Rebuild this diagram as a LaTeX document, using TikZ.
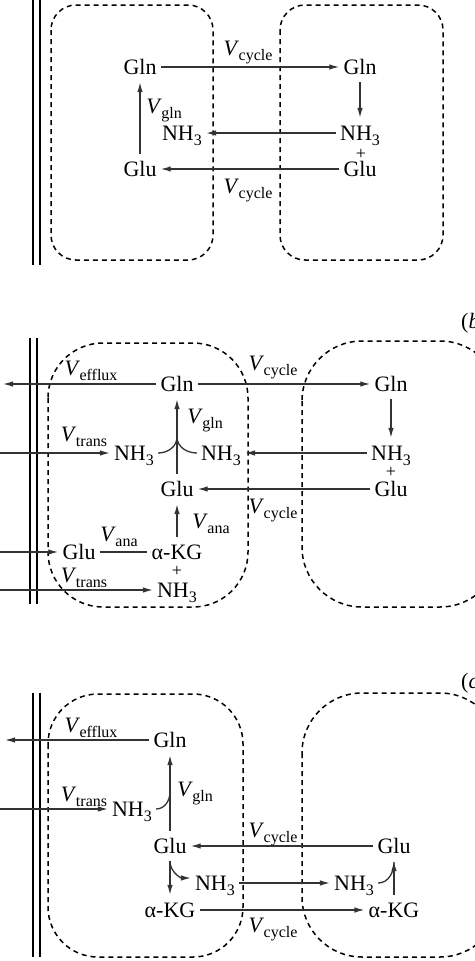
\documentclass[tikz,border=0pt]{standalone}
\usepackage{fontspec}
\setmainfont{Liberation Serif}
\usepackage{tikz}
\usetikzlibrary{arrows.meta}
\tikzset{>={Latex[length=10pt,width=5.5pt]}}
\tikzstyle{flow} = [->, black!80, line width=1.3]
\tikzstyle{link} = [black!80, line width=1.3]
\tikzstyle{cell} = [dash pattern=on 5pt off 4pt, line width=1.5]
\tikzstyle{wall} = [line width=1.8]
\tikzstyle{met} = [inner sep=4pt, text height=18pt, text depth=4pt, font=\fontsize{22}{26}\selectfont]
\tikzstyle{rate} = [inner sep=0pt, anchor=base, font=\fontsize{22}{26}\selectfont]
\tikzstyle{plus} = [inner sep=0pt, font=\fontsize{18}{20}\selectfont]
\newcommand{\vrate}[1]{\textit{V}\kern-0.5pt\raisebox{-5pt}{\fontsize{16}{16}\selectfont #1}}
\newcommand{\nhthree}{NH\raisebox{-5pt}{\fontsize{16}{16}\selectfont 3}}

\begin{document}
\begin{tikzpicture}[x=1pt, y=-1pt]
		\useasboundingbox (0,0) rectangle (474,961);
		
		% Coordinates
		\coordinate (bOut) at (3,384);
		\coordinate (bIn1) at (0,453);
		\coordinate (bIn2) at (0,552);
		\coordinate (bIn3) at (0,590);
		\coordinate (bJoin) at (177,437);
		\coordinate (cOut) at (5,740);
		\coordinate (cIn) at (0,809);
		\coordinate (cJoin) at (170,792);
		\coordinate (cMerge) at (394,862);
		
		% Walls
		\foreach \x/\ya/\yb in {33/0/265, 40/0/265, 30/338/604, 37/338/604, 33/693/957, 40/693/957}
		{
			\draw[wall] (\x,\ya) -- (\x,\yb);
		}
		
		% Cells
		\draw[cell, rounded corners=25pt] (51,5) rectangle (213,260);
		\draw[cell, rounded corners=25pt] (280,5) rectangle (443,260);
		\draw[cell, rounded corners=55pt] (48,343) rectangle (248,607);
		\draw[cell, rounded corners=60pt] (302,341) rectangle (500,607);
		\draw[cell, rounded corners=50pt] (48,694) rectangle (243,957);
		\draw[cell, rounded corners=60pt] (302,693) rectangle (500,957);
		
		% Panel labels
		\node[rate, anchor=base west] (labB) at (461,328) {(\textit{b})};
		\node[rate, anchor=base west] (labC) at (461,688) {(\textit{c})};
		
		% (a) Metabolites
		\node[met] (aGlnL) at (140,67) {Gln};
		\node[met] (aGlnR) at (360,67) {Gln};
		\node[met] (aNHL) at (182,133) {\nhthree};
		\node[met] (aNHR) at (360,133) {\nhthree};
		\node[plus] (aPlus) at (361,154) {+};
		\node[met] (aGluL) at (140,169) {Glu};
		\node[met] (aGluR) at (360,169) {Glu};
		
		% (a) Fluxes
		\draw[flow] (aGlnL) -- (aGlnR);
		\draw[flow] (aGlnR) -- (aNHR);
		\draw[flow] (aNHR) -- (aNHL);
		\draw[flow] (aGluR) -- (aGluL);
		\draw[flow] (aGluL) -- (aGlnL);
		\node[rate] (aVc1) at (248,55) {\vrate{cycle}};
		\node[rate] (aVc2) at (248,193) {\vrate{cycle}};
		\node[rate] (aVg) at (164,113) {\vrate{gln}};
		
		% (b) Metabolites
		\node[met] (bGln) at (177,384) {Gln};
		\node[met] (bGlnR) at (391,384) {Gln};
		\node[met] (bNHL) at (134,453) {\nhthree};
		\node[met] (bNHM) at (221,453) {\nhthree};
		\node[met] (bNHR) at (391,453) {\nhthree};
		\node[plus] (bPlus) at (391,472) {+};
		\node[met] (bGlu) at (177,489) {Glu};
		\node[met] (bGluR) at (391,489) {Glu};
		\node[met] (bGluL) at (79,552) {Glu};
		\node[met] (bKG) at (177,552) {α-KG};
		\node[plus] (bPlus2) at (177,571) {+};
		\node[met] (bNH) at (177,590) {\nhthree};
		
		% (b) Fluxes
		\draw[flow] (bGln) -- (bOut);
		\draw[flow] (bGln) -- (bGlnR);
		\draw[flow] (bGlnR) -- (bNHR);
		\draw[flow] (bNHR) -- (bNHM);
		\draw[flow] (bGluR) -- (bGlu);
		\draw[flow] (bGlu) -- (bGln);
		\draw[link] (bNHL.east) to[out=0, in=-90] (bJoin);
		\draw[link] (bNHM.west) to[out=180, in=-90] (bJoin);
		\draw[flow] (bIn1) -- (bNHL);
		\draw[flow] (bKG) -- (bGlu);
		\draw[flow] (bIn2) -- (bGluL);
		\draw[link] (bGluL) -- (bKG);
		\draw[flow] (bIn3) -- (bNH);
		\node[rate] (bVe) at (91,375) {\vrate{efflux}};
		\node[rate] (bVc1) at (273,370) {\vrate{cycle}};
		\node[rate] (bVg) at (205,423) {\vrate{gln}};
		\node[rate] (bVt1) at (84,441) {\vrate{trans}};
		\node[rate] (bVc2) at (273,513) {\vrate{cycle}};
		\node[rate] (bVa1) at (211,528) {\vrate{ana}};
		\node[rate] (bVa2) at (119,541) {\vrate{ana}};
		\node[rate] (bVt2) at (84,582) {\vrate{trans}};
		
		% (c) Metabolites
		\node[met] (cGln) at (170,740) {Gln};
		\node[met] (cNHL) at (132,809) {\nhthree};
		\node[met] (cGlu) at (170,846) {Glu};
		\node[met] (cGluR) at (394,846) {Glu};
		\node[met] (cNHM) at (215,883) {\nhthree};
		\node[met] (cNHR) at (354,883) {\nhthree};
		\node[met] (cKGL) at (170,910) {α-KG};
		\node[met] (cKGR) at (394,910) {α-KG};
		
		% (c) Fluxes
		\draw[flow] (cGln) -- (cOut);
		\draw[flow] (cIn) -- (cNHL);
		\draw[flow] (cGlu) -- (cGln);
		\draw[link] (cNHL.east) to[out=0, in=-90] (cJoin);
		\draw[flow] (cGluR) -- (cGlu);
		\draw[flow] (cGlu) -- (cKGL);
		\draw[flow] (cGlu.south) to[out=-90, in=180] ([yshift=5pt]cNHM.west);
		\draw[flow] (cNHM) -- (cNHR);
		\draw[flow] (cKGR) -- (cGluR);
		\draw[link] (cNHR.east) to[out=0, in=-90] (cMerge);
		\draw[flow] (cKGL) -- (cKGR);
		\node[rate] (cVe) at (91,732) {\vrate{efflux}};
		\node[rate] (cVt) at (84,801) {\vrate{trans}};
		\node[rate] (cVg) at (195,796) {\vrate{gln}};
		\node[rate] (cVc1) at (273,837) {\vrate{cycle}};
		\node[rate] (cVc2) at (273,932) {\vrate{cycle}};
	\end{tikzpicture}
\end{document}
